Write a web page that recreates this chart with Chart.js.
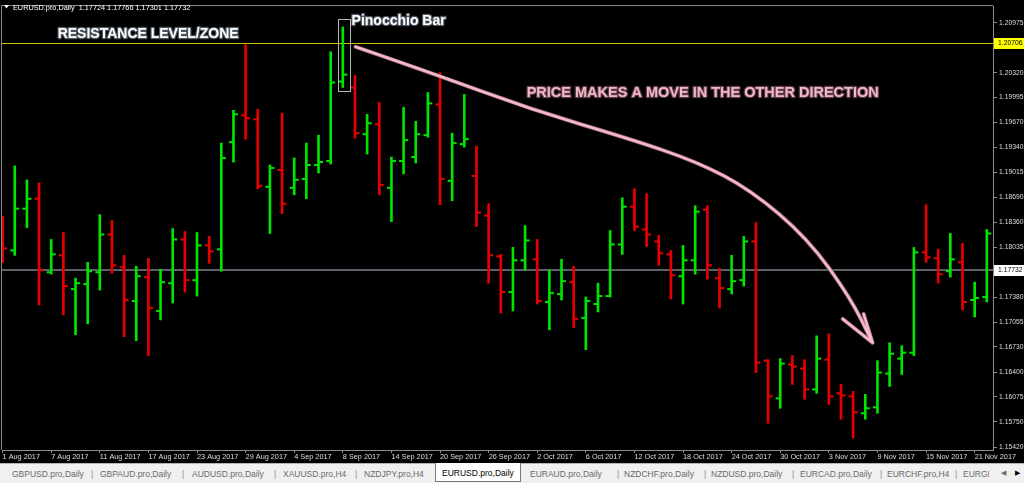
<!DOCTYPE html>
<html>
<head>
<meta charset="utf-8">
<title>EURUSD.pro,Daily</title>
<script src="https://cdn.jsdelivr.net/npm/chart.js@4.4.1/dist/chart.umd.min.js"></script>
<style>
  html, body { margin: 0; padding: 0; background: #f0f0f0; }
  #wrap { position: relative; width: 1024px; height: 483px; overflow: hidden; }
  #priceChart { display: block; background: #000; }
  #tabs {
    position: absolute; left: 0; top: 463px; width: 1024px; height: 20px;
    background: #f0f0f0; border-top: 1px solid #b4b4b4; box-sizing: border-box;
    font: 8.5px "Liberation Sans", Arial, sans-serif; color: #6a6a6a;
  }
  #tabs span { position: absolute; top: 5px; white-space: nowrap; }
  #tabs .sep { color: #8a8a8a; }
  #tabs .active {
    top: -1px; left: 435px; width: 86px; height: 19px; box-sizing: border-box;
    background: #fff; border: 1px solid #7a7a7a; border-top: none;
    color: #000; padding: 5px 0 0 6px;
  }
</style>
</head>
<body>
<div id="wrap">
  <canvas id="priceChart" width="1024" height="463"></canvas>
  <div id="tabs">
    <span style="left:12px">GBPUSD.pro,Daily</span>
    <span class="sep" style="left:91px">|</span>
    <span style="left:100px">GBPAUD.pro,Daily</span>
    <span class="sep" style="left:182px">|</span>
    <span style="left:192px">AUDUSD.pro,Daily</span>
    <span class="sep" style="left:274px">|</span>
    <span style="left:283px">XAUUSD.pro,H4</span>
    <span class="sep" style="left:355px">|</span>
    <span style="left:364px">NZDJPY.pro,H4</span>
    <span class="active">EURUSD.pro,Daily</span>
    <span style="left:530px">EURAUD.pro,Daily</span>
    <span class="sep" style="left:617px">|</span>
    <span style="left:624px">NZDCHF.pro,Daily</span>
    <span class="sep" style="left:704px">|</span>
    <span style="left:711px">NZDUSD.pro,Daily</span>
    <span class="sep" style="left:792px">|</span>
    <span style="left:800px">EURCAD.pro,Daily</span>
    <span class="sep" style="left:880px">|</span>
    <span style="left:887px">EURCHF.pro,H4</span>
    <span class="sep" style="left:955px">|</span>
    <span style="left:963px;width:26px;overflow:hidden">EURGBP</span>
    <span style="left:1001px;font-size:7px">&#9664;</span>
    <span style="left:1015px;font-size:7px;color:#000">&#9654;</span>
  </div>
</div>

<script>

// =========================
// DATA
// =========================

const tickLabels = [
  "1 Aug 2017", "7 Aug 2017", "11 Aug 2017", "17 Aug 2017",
  "23 Aug 2017", "29 Aug 2017", "4 Sep 2017", "8 Sep 2017",
  "14 Sep 2017", "20 Sep 2017", "26 Sep 2017", "2 Oct 2017",
  "6 Oct 2017", "12 Oct 2017", "18 Oct 2017", "24 Oct 2017",
  "30 Oct 2017", "3 Nov 2017", "9 Nov 2017", "15 Nov 2017",
  "21 Nov 2017"
];

// one date label every 4 daily bars
const tickStep = 4;

const priceTicks = [
  1.20975, 1.20650, 1.20320, 1.19995, 1.19670, 1.19340,
  1.19015, 1.18690, 1.18360, 1.18035, 1.17710, 1.17380,
  1.17055, 1.16730, 1.16400, 1.16075, 1.15750, 1.15420
];

const opens = [
  1.18267, 1.17994, 1.18540, 1.18670, 1.17708, 1.17929, 1.17487, 1.17552, 1.17708, 1.18202,
  1.17773, 1.17331, 1.17643, 1.17201, 1.17565, 1.18137, 1.17604, 1.18059, 1.18007, 1.19411,
  1.19762, 1.19710, 1.18826, 1.19047, 1.18813, 1.18930, 1.19112, 1.19164, 1.20204, 1.20126,
  1.19515, 1.19645, 1.18813, 1.19164, 1.19216, 1.19502, 1.19905, 1.18904, 1.19385, 1.18969,
  1.18449, 1.17916, 1.17448, 1.17864, 1.17877, 1.17318, 1.17422, 1.17578, 1.17110, 1.17292,
  1.17396, 1.18072, 1.18566, 1.18267, 1.18111, 1.17942, 1.17656, 1.17864, 1.18527, 1.17630,
  1.17487, 1.17604, 1.18111, 1.16551, 1.16057, 1.16499, 1.16447, 1.16174, 1.16564, 1.16122,
  1.16083, 1.15862, 1.15940, 1.16382, 1.16577, 1.16655, 1.17968, 1.17890, 1.17721, 1.17838,
  1.17344, 1.17383
];

const highs = [
  1.18436, 1.19099, 1.18917, 1.18878, 1.18137, 1.18228, 1.17630, 1.17838, 1.18462, 1.18384,
  1.17929, 1.17786, 1.17890, 1.17747, 1.18280, 1.18241, 1.18228, 1.18176, 1.19398, 1.19827,
  1.20685, 1.19840, 1.19112, 1.19788, 1.19203, 1.19398, 1.19502, 1.20594, 1.20919, 1.20282,
  1.19775, 1.19931, 1.19216, 1.19866, 1.19684, 1.20061, 1.20321, 1.19528, 1.20035, 1.19359,
  1.18605, 1.17942, 1.18033, 1.18319, 1.18137, 1.17734, 1.17877, 1.17786, 1.17383, 1.17565,
  1.18254, 1.18683, 1.18800, 1.18735, 1.18189, 1.17994, 1.18059, 1.18579, 1.18579, 1.17760,
  1.17929, 1.18176, 1.18358, 1.16564, 1.16577, 1.16616, 1.16564, 1.16876, 1.16902, 1.16239,
  1.16148, 1.16109, 1.16551, 1.16785, 1.16746, 1.18033, 1.18592, 1.18007, 1.18215, 1.18085,
  1.17578, 1.18267
];

const lows = [
  1.17838, 1.17929, 1.18293, 1.17279, 1.17682, 1.17149, 1.16889, 1.17032, 1.17474, 1.17695,
  1.16863, 1.16811, 1.16616, 1.17084, 1.17305, 1.17448, 1.17396, 1.17825, 1.17721, 1.19151,
  1.19450, 1.18800, 1.18215, 1.18475, 1.18722, 1.18670, 1.19008, 1.19125, 1.20126, 1.19463,
  1.19255, 1.18722, 1.18371, 1.18995, 1.19138, 1.19476, 1.18592, 1.18644, 1.19346, 1.18306,
  1.17565, 1.17175, 1.17201, 1.17734, 1.17292, 1.16954, 1.17344, 1.16980, 1.16694, 1.17188,
  1.17383, 1.17942, 1.18254, 1.18046, 1.17799, 1.17357, 1.17292, 1.17682, 1.17617, 1.17240,
  1.17422, 1.17526, 1.16395, 1.15732, 1.15927, 1.16239, 1.16044, 1.16122, 1.15979, 1.15784,
  1.15537, 1.15784, 1.15862, 1.16213, 1.16369, 1.16616, 1.17838, 1.17565, 1.17643, 1.17214,
  1.17123, 1.17318
];

const closes = [
  1.18020, 1.18540, 1.18670, 1.17734, 1.17942, 1.17526, 1.17565, 1.17721, 1.18202, 1.17799,
  1.17344, 1.17656, 1.17240, 1.17578, 1.18137, 1.17604, 1.18059, 1.17981, 1.19203, 1.19775,
  1.19723, 1.18839, 1.19073, 1.18605, 1.18917, 1.19112, 1.19151, 1.20191, 1.20295, 1.19528,
  1.19658, 1.18852, 1.19164, 1.19437, 1.19515, 1.19918, 1.18930, 1.19398, 1.19450, 1.18488,
  1.17929, 1.17448, 1.17864, 1.18124, 1.17331, 1.17435, 1.17591, 1.17097, 1.17331, 1.17396,
  1.18072, 1.18566, 1.18306, 1.18202, 1.17955, 1.17669, 1.17864, 1.18501, 1.17799, 1.17500,
  1.17591, 1.18111, 1.16525, 1.16083, 1.16512, 1.16473, 1.16174, 1.16577, 1.16083, 1.16096,
  1.15875, 1.15927, 1.16395, 1.16642, 1.16655, 1.17968, 1.17903, 1.17682, 1.17877, 1.17318,
  1.17370, 1.18215
];

const headerText = "EURUSD.pro,Daily  1.17724 1.17766 1.17301 1.17732";
const bidPrice = 1.17732;
const resistancePrice = 1.20706;

// annotation anchors, in [bar index, price]
const resistanceLabel = [4.53, 1.20828];
const pinocchioLabel = [28.72, 1.20997];
const moveLabel = [43.13, 1.20048];
const pinocchioBox = [[27.57, 1.21023], [28.56, 1.20074]];

const arrowPath = [
  [29.05, 1.20659], [35.23, 1.20321], [43.46, 1.19840],
  [51.69, 1.19450], [57.20, 1.19151], [61.56, 1.18787],
  [66.26, 1.18150], [69.79, 1.17370], [71.60, 1.16785]
];

const arrowHead = [[69.14, 1.17097], [70.86, 1.17162]];


// =========================
// COLOURS / FONTS
// =========================

const bullColor = "#00e400";
const bearColor = "#e80000";
const axisColor = "#8c8c8c";
const labelColor = "#dcdcdc";
const smallFont = "\"Liberation Sans\", Arial, sans-serif";

const barColors = opens.map(
  (o, i) => closes[i] >= o ? bullColor : bearColor
);


// =========================
// OHLC + ANNOTATIONS PLUGIN
// =========================

function outlinedText(ctx, text, x, y, fill, stroke) {

  ctx.lineJoin = "round";
  ctx.lineWidth = 2.5;
  ctx.strokeStyle = stroke;
  ctx.strokeText(text, x, y);
  ctx.fillStyle = fill;
  ctx.fillText(text, x, y);

}

function priceBox(ctx, chart, price, bg, fg) {

  const y = Math.round(chart.scales.y.getPixelForValue(price));
  const left = chart.chartArea.right + 1;

  ctx.fillStyle = bg;
  ctx.fillRect(left, y - 5, 1024 - left, 11);

  ctx.fillStyle = fg;
  ctx.font = "6.8px " + smallFont;
  ctx.textBaseline = "middle";
  ctx.textAlign = "left";
  ctx.fillText(price.toFixed(5), left + 4, y + 0.5);

}

const ohlcPlugin = {

  id: "ohlc",

  beforeDatasetsDraw(chart) {

    const { ctx, chartArea, scales } = chart;

    ctx.save();

    // bid line
    const yb = Math.round(scales.y.getPixelForValue(bidPrice));
    ctx.fillStyle = "#5c5f67";
    ctx.fillRect(chartArea.left, yb - 1, chartArea.right - chartArea.left, 2);

    // resistance line
    const yr = Math.round(scales.y.getPixelForValue(resistancePrice));
    ctx.fillStyle = "#c8c400";
    ctx.fillRect(chartArea.left, yr, chartArea.right - chartArea.left, 1);

    ctx.restore();

  },

  afterDatasetsDraw(chart) {

    const { ctx, chartArea, scales } = chart;
    const x = scales.x;
    const y = scales.y;

    ctx.save();
    ctx.beginPath();
    ctx.rect(chartArea.left, chartArea.top, chartArea.right - chartArea.left, chartArea.bottom - chartArea.top);
    ctx.clip();

    // open (left) and close (right) ticks
    opens.forEach((o, i) => {

      const xp = x.getPixelForValue(i);
      ctx.fillStyle = barColors[i];
      ctx.fillRect(xp - 4.5, y.getPixelForValue(o) - 1, 4, 2);
      ctx.fillRect(xp + 0.5, y.getPixelForValue(closes[i]) - 1, 4, 2);

    });

    // pinocchio bar box
    const bx0 = Math.round(x.getPixelForValue(pinocchioBox[0][0])) + 0.5;
    const by0 = Math.round(y.getPixelForValue(pinocchioBox[0][1])) + 0.5;
    const bx1 = Math.round(x.getPixelForValue(pinocchioBox[1][0])) + 0.5;
    const by1 = Math.round(y.getPixelForValue(pinocchioBox[1][1])) + 0.5;
    ctx.strokeStyle = "#b4b4b4";
    ctx.lineWidth = 1;
    ctx.strokeRect(bx0, by0, bx1 - bx0, by1 - by0);

    // pink curved arrow
    const pts = arrowPath.map(p => [x.getPixelForValue(p[0]), y.getPixelForValue(p[1])]);
    ctx.beginPath();
    ctx.moveTo(pts[0][0], pts[0][1]);
    for (let i = 1; i < pts.length - 1; i++) {
      const mx = (pts[i][0] + pts[i + 1][0]) / 2;
      const my = (pts[i][1] + pts[i + 1][1]) / 2;
      ctx.quadraticCurveTo(pts[i][0], pts[i][1], mx, my);
    }
    const tip = pts[pts.length - 1];
    ctx.lineTo(tip[0], tip[1]);
    arrowHead.forEach(h => {
      ctx.moveTo(tip[0], tip[1]);
      ctx.lineTo(x.getPixelForValue(h[0]), y.getPixelForValue(h[1]));
    });
    ctx.lineCap = "round";
    ctx.lineJoin = "round";
    ctx.strokeStyle = "#8e6470";
    ctx.lineWidth = 4;
    ctx.stroke();
    ctx.strokeStyle = "#f6b8c8";
    ctx.lineWidth = 2.5;
    ctx.stroke();

    // labels
    ctx.font = "bold 14px \"Liberation Sans\", Arial, sans-serif";
    ctx.textBaseline = "middle";
    ctx.textAlign = "left";

    outlinedText(
      ctx, "RESISTANCE LEVEL/ZONE",
      x.getPixelForValue(resistanceLabel[0]), y.getPixelForValue(resistanceLabel[1]),
      "#ffffff", "#4a5560"
    );

    outlinedText(
      ctx, "Pinocchio Bar",
      x.getPixelForValue(pinocchioLabel[0]), y.getPixelForValue(pinocchioLabel[1]),
      "#ffffff", "#4a5560"
    );

    ctx.font = "bold 14.5px \"Liberation Sans\", Arial, sans-serif";
    outlinedText(
      ctx, "PRICE MAKES A MOVE IN THE OTHER DIRECTION",
      x.getPixelForValue(moveLabel[0]), y.getPixelForValue(moveLabel[1]),
      "#f6b8c8", "#5a3c46"
    );

    ctx.restore();

  },

  afterDraw(chart) {

    const { ctx, chartArea } = chart;

    ctx.save();

    // left and top frame lines
    ctx.fillStyle = axisColor;
    ctx.fillRect(chartArea.left - 1, chartArea.top, 1, chartArea.bottom - chartArea.top);
    ctx.fillRect(chartArea.left - 1, chartArea.top - 1, chartArea.right - chartArea.left + 1, 1);

    // price boxes on the axis
    priceBox(ctx, chart, resistancePrice, "#ffff00", "#000000");
    priceBox(ctx, chart, bidPrice, "#ffffff", "#000000");

    // header
    ctx.fillStyle = "#ffffff";
    ctx.beginPath();
    ctx.moveTo(4, 5);
    ctx.lineTo(9, 5);
    ctx.lineTo(6.5, 8.5);
    ctx.closePath();
    ctx.fill();

    ctx.font = "7.3px " + smallFont;
    ctx.textBaseline = "middle";
    ctx.textAlign = "left";
    ctx.fillText(headerText, 13, 7.5);

    ctx.restore();

  }

};


// =========================
// CHART
// =========================

const canvas = document.getElementById("priceChart");

new Chart(canvas, {

  type: "bar",

  data: {
    datasets: [
      {
        label: "EURUSD.pro,Daily",
        data: highs.map((h, i) => ({ x: i, y: [lows[i], h] })),
        backgroundColor: barColors,
        borderWidth: 0,
        barThickness: 2,
        grouped: false
      }
    ]
  },

  options: {

    responsive: false,
    animation: false,
    devicePixelRatio: 1,

    layout: {
      padding: { left: 2, top: 3, right: 0, bottom: 0 }
    },

    plugins: {
      legend: { display: false },
      tooltip: { enabled: false }
    },

    scales: {

      x: {
        type: "linear",
        min: -0.05,
        max: 81.51,
        offset: false,
        grid: {
          offset: false,
          drawOnChartArea: false,
          drawTicks: true,
          tickLength: 3,
          color: axisColor
        },
        border: { color: axisColor },
        ticks: {
          autoSkip: false,
          maxRotation: 0,
          minRotation: 0,
          align: "start",
          padding: 0,
          color: labelColor,
          font: { family: smallFont, size: 7.3 },
          callback: (v, i) => tickLabels[i]
        },
        afterBuildTicks: scale => {
          scale.ticks = tickLabels.map((t, i) => ({ value: i * tickStep }));
        },
        afterFit: scale => {
          scale.height = 13;
        }
      },

      y: {
        position: "right",
        min: 1.15381,
        max: 1.21192,
        beginAtZero: false,
        grid: {
          drawOnChartArea: false,
          drawTicks: true,
          tickLength: 4,
          color: axisColor
        },
        border: { color: axisColor },
        ticks: {
          padding: 2,
          color: labelColor,
          font: { family: smallFont, size: 6.8 },
          callback: v => Number(v).toFixed(5)
        },
        afterBuildTicks: scale => {
          scale.ticks = priceTicks.map(v => ({ value: v }));
        },
        afterFit: scale => {
          scale.width = 31;
        }
      }

    }

  },

  plugins: [ohlcPlugin]

});

</script>
</body>
</html>
